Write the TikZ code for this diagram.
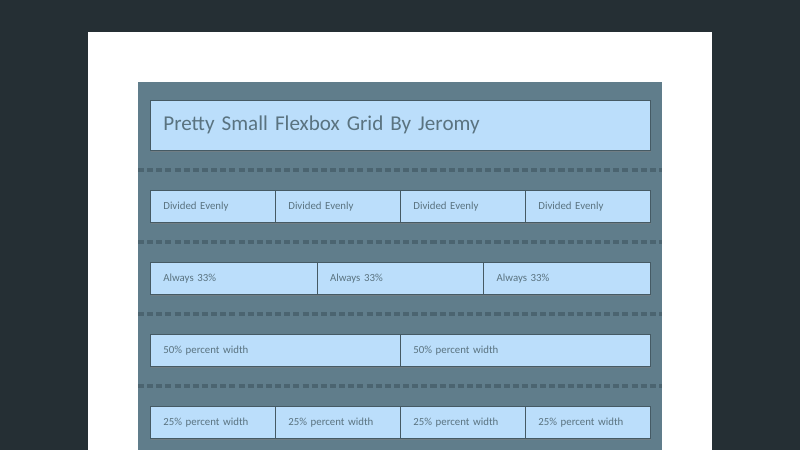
\documentclass[tikz,border=0pt]{standalone}
\usepackage{fontspec}
\setmainfont{Carlito}
\usetikzlibrary{shadows}
\definecolor{page}{HTML}{252F34}
\definecolor{panel}{HTML}{607D8B}
\definecolor{cellfill}{HTML}{BBDEFB}
\definecolor{cellline}{HTML}{455A64}
\definecolor{celltext}{HTML}{5A7380}
\definecolor{dashcol}{HTML}{4B6470}
\begin{document}
\begin{tikzpicture}[x=0.025cm, y=-0.025cm]
	\tikzstyle{cell}=[draw=cellline, line width=0.5pt, fill=cellfill, text=celltext, anchor=north west, minimum height=0.8cm, align=left, inner xsep=0.325cm, inner ysep=0pt, font=\fontsize{7.7}{10}\selectfont, drop shadow={shadow xshift=0.3pt, shadow yshift=-1.1pt, opacity=0.5}]
	\tikzstyle{divider}=[dashcol, line width=2.2pt, dash pattern=on 4.3pt off 2.2pt]
	% Page
	\useasboundingbox (0,0) rectangle (800,450);
	\fill[page] (0,0) rectangle (800,450);
	\fill[white] (88,32) rectangle (712,450);
	\fill[panel] (138,82) rectangle (662,450);
	% Title
	\node at (150,100) [cell, text width=11.85cm, minimum height=1.25cm, font=\fontsize{15}{18}\selectfont] (title) {Pretty Small Flexbox Grid By Jeromy};
	% Dividers
	\foreach \y in {170,242,314,386}
		\draw[divider] (138,\y) -- (662,\y);
	%---------------------%
	% Divided evenly
	\foreach \x in {1,...,4}
		\node at (25+\x*125, 190) [cell, text width=2.475cm] (even_\x) {Divided Evenly};
	% Always 33%
	\foreach \x in {1,...,3}
		\node at (150+\x*166.667-166.667, 262) [cell, text width=3.5167cm] (third_\x) {Always 33\%};
	% 50% width
	\foreach \x in {1,...,2}
		\node at (\x*250-100, 334) [cell, text width=5.6cm] (half_\x) {50\% percent width};
	% 25% width
	\foreach \x in {1,...,4}
		\node at (25+\x*125, 406) [cell, text width=2.475cm] (quarter_\x) {25\% percent width};
	%---------------------%
\end{tikzpicture}
\end{document}
